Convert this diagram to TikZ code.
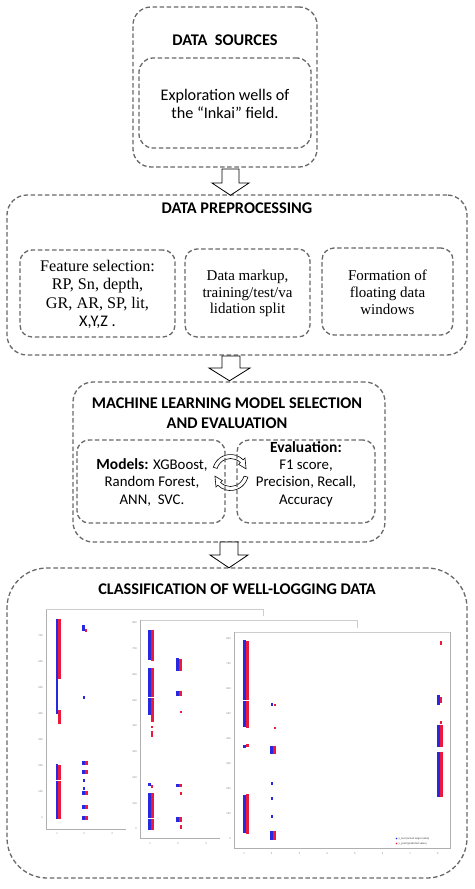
\documentclass[tikz,border=0pt]{standalone}
\usepackage{fontspec}
\setmainfont{Liberation Serif}
\newfontfamily\calfont{Carlito}
\newfontfamily\tickfont{Liberation Sans}
\usetikzlibrary{calc}
\definecolor{dashgray}{RGB}{105,105,105}
\definecolor{plotblue}{RGB}{40,40,225}
\definecolor{plotred}{RGB}{235,25,60}
\definecolor{spinegray}{RGB}{175,175,175}
\definecolor{framegray}{RGB}{205,205,205}
\tikzset{
  dbox/.style={draw=dashgray, line width=1.3pt, dash pattern=on 4.5pt off 2.6pt, rounded corners=#1, inner sep=0pt},
  dbox/.default=16pt,
  ttl/.style={font=\calfont\bfseries\fontsize{16.3}{20}\selectfont, align=center, inner sep=0pt},
  cbody/.style={font=\calfont\fontsize{14.8}{17.4}\selectfont, align=center, inner sep=0pt},
  sbody/.style={font=\fontsize{15}{16.8}\selectfont, align=center, inner sep=0pt},
  blockarrow/.style={draw=black, fill=white, line width=0.8pt, line join=miter},
  cyc/.style={draw=black, fill=white, line width=0.6pt},
  bb/.style={fill=plotblue},
  rb/.style={fill=plotred},
  spine/.style={draw=spinegray, line width=0.9pt},
  frame/.style={draw=framegray, line width=0.8pt},
  tick/.style={font=\tickfont\fontsize{2.6}{3}\selectfont, text=gray, inner sep=0pt},
}
\begin{document}
\begin{tikzpicture}[x=1pt,y=-1pt]
\useasboundingbox (0,0) rectangle (474,889);
\fill[white] (0,0) rectangle (474,889);

% ---------- DATA SOURCES ----------
\node[dbox=18pt, minimum width=184pt, minimum height=160pt] (ds) at (225,87) {};
\node[dbox=14pt, minimum width=172pt, minimum height=90pt] (dsin) at (225,103) {};
\node[ttl] (dst) at (225,40) {DATA\ \ SOURCES};
\node[cbody, font=\calfont\fontsize{16.2}{18.5}\selectfont] (dstx) at (225,104) {Exploration wells of\\the “Inkai” field.};

% ---------- DATA PREPROCESSING ----------
\node[dbox=20pt, minimum width=460pt, minimum height=160pt] (pp) at (237,275) {};
\node[ttl] (ppt) at (237,208) {DATA PREPROCESSING};
\node[dbox=12pt, minimum width=155pt, minimum height=87pt] (pp1) at (97.5,293.5) {};
\node[dbox=12pt, minimum width=125pt, minimum height=88pt] (pp2) at (247.5,293) {};
\node[dbox=12pt, minimum width=131pt, minimum height=87pt] (pp3) at (387.5,291.5) {};
\node[sbody, font=\fontsize{16.2}{18.3}\selectfont] (pp1t) at (97.5,294.5) {Feature selection:\\RP, Sn, depth,\\GR, AR, SP, lit,\\{\calfont X,Y,Z .}};
\node[sbody] (pp2t) at (247.5,293.5) {Data markup,\\training/test/va\\lidation split};
\node[sbody] (pp3t) at (387.5,292.5) {Formation of\\floating data\\windows};

% ---------- ML ----------
\node[dbox=20pt, minimum width=312pt, minimum height=160pt] (ml) at (229,462) {};
\node[ttl] (mlt) at (227,413) {MACHINE LEARNING MODEL SELECTION\\AND EVALUATION};

% cycle arrows (behind the inner boxes)
\coordinate (C) at (230.5,472.5);
\draw[cyc] ($(C)+(-163:18)$) arc[start angle=-163, end angle=-45, radius=18]
  -- ($(C)+(-45:20.5)$) -- ($(C)+(-13:16)$) -- ($(C)+(-45:11.5)$) -- ($(C)+(-45:14)$)
  arc[start angle=-45, end angle=-163, radius=14] -- cycle;
\draw[cyc] ($(C)+(15:18)$) arc[start angle=15, end angle=135, radius=18]
  -- ($(C)+(135:20.5)$) -- ($(C)+(167:16)$) -- ($(C)+(135:11.5)$) -- ($(C)+(135:14)$)
  arc[start angle=135, end angle=15, radius=14] -- cycle;

\node[dbox=12pt, minimum width=148pt, minimum height=83pt] (ml1) at (151,481.5) {};
\node[dbox=12pt, minimum width=138pt, minimum height=83pt] (ml2) at (306,481.5) {};
\node[cbody] (ml1t) at (152,482.5) {{\bfseries\fontsize{15.5}{17.4}\selectfont Models:} XGBoost,\\Random Forest,\\ANN,\ \ SVC.};
\node[cbody] (ml2t) at (306,474) {{\bfseries\fontsize{15.5}{17.4}\selectfont Evaluation:}\\F1 score,\\Precision, Recall,\\Accuracy};

% ---------- CLASSIFICATION ----------
\node[dbox=40pt, minimum width=460pt, minimum height=310pt] (cl) at (237,723) {};
\node[ttl] (clt) at (237,589) {CLASSIFICATION OF WELL-LOGGING DATA};

% ---------- block arrows ----------
\draw[blockarrow] (222,169) -- (239,169) -- (239,183) -- (249,183) -- (230.5,195.3) -- (212,183) -- (222,183) -- cycle;
\draw[blockarrow] (222,356) -- (240,356) -- (240,368) -- (250,368) -- (229.5,380.8) -- (209,368) -- (222,368) -- cycle;
\draw[blockarrow] (220,542) -- (238,542) -- (238,555) -- (248,555) -- (229,567.8) -- (210,555) -- (220,555) -- cycle;

% ---------- panel 1 ----------
\fill[white] (30,606) rectangle (263,842);
\draw[frame] (46,609.5) -- (263,609.5) -- (263,626);
\draw[spine] (46,609.5) -- (46,829) -- (135,829);
\foreach \v in {0,100,...,700} \node[tick, anchor=east] at (43,{818-0.26*\v}) {\v};
\foreach \i/\xx in {1/57,2/84,3/112} \node[tick] at (\xx,834) {\i};
\fill[bb] (55.5,619) rectangle (58.3,714);
\fill[rb] (58,619) rectangle (61,679);
\fill[rb] (58,710) rectangle (61,724);
\fill[bb] (55.5,764) rectangle (58.3,819);
\fill[rb] (58,765) rectangle (61,819);
\fill[white] (55,780) rectangle (61,781);
\fill[bb] (82,625) rectangle (85,631); \fill[rb] (85,629) rectangle (87,632);
\fill[bb] (83,696) rectangle (85,698.5);
\foreach \yy in {763,772,793,807,818} {\fill[bb] (82,\yy-2) rectangle (85,\yy+2); \fill[rb] (85,\yy-2) rectangle (88,\yy+2);}
\foreach \yy in {780,788} {\fill[bb] (82.5,\yy-1.5) rectangle (84.5,\yy+1.5);}

% ---------- panel 2 ----------
\fill[white] (126,616) rectangle (357,852);
\draw[frame] (140,620) -- (357,620) -- (357,640);
\draw[spine] (140,620) -- (140,838) -- (357,838);
\foreach \v in {0,100,...,800} \node[tick, anchor=east] at (137,{829-0.2575*\v}) {\v};
\foreach \i/\xx in {1/150,2/178,3/206} \node[tick] at (\xx,843.5) {\i};
\fill[bb] (148,630) rectangle (151,660); \fill[rb] (151,630) rectangle (154,661);
\fill[bb] (148,668) rectangle (151,715); \fill[rb] (151,668) rectangle (154,722);
\fill[white] (148,697) rectangle (154,698);
\fill[rb] (151,726) rectangle (153,728); \fill[rb] (151,731) rectangle (153,737);
\fill[bb] (148,783) rectangle (151,786); \fill[rb] (151,785) rectangle (153,788);
\fill[bb] (148,793) rectangle (151,830); \fill[rb] (151,793) rectangle (154,830);
\fill[white] (148,818) rectangle (154,819);
\fill[bb] (176,658) rectangle (179,671); \fill[rb] (179,659) rectangle (182,671);
\fill[bb] (176,691) rectangle (179,696); \fill[rb] (179,691) rectangle (182,696);
\fill[rb] (180,711) rectangle (181.5,713);
\fill[bb] (176,784) rectangle (179,787); \fill[rb] (179,784) rectangle (182,787);
\fill[rb] (180,792) rectangle (182,795);
\fill[bb] (176,817) rectangle (179,822); \fill[rb] (179,817) rectangle (182,822);
\fill[rb] (180,825) rectangle (182,829);

% ---------- panel 3 ----------
\fill[white] (220,628) rectangle (452,860);
\draw[frame] (234,632) -- (450,632);
\draw[spine] (234,632) -- (234,848) -- (450,848) -- (450,632);
\foreach \v in {0,100,...,800} \node[tick, anchor=east] at (231,{839-0.25*\v}) {\v};
\foreach \i in {1,...,8} \node[tick] at ({244+27.7*(\i-1)},853.5) {\i};
\fill[bb] (243,640) rectangle (246,727); \fill[rb] (246,641) rectangle (249,728);
\fill[white] (243,700) rectangle (249,701);
\fill[bb] (243,745) rectangle (246,748); \fill[rb] (246,744) rectangle (248.5,747);
\fill[bb] (243,795) rectangle (246,833); \fill[rb] (246,794) rectangle (249,834);
\fill[bb] (271,703) rectangle (273,706); \fill[rb] (274,704) rectangle (275.5,705.5);
\fill[rb] (274,727) rectangle (275.5,729);
\fill[bb] (270,746) rectangle (273,754); \fill[rb] (273,746) rectangle (276,754);
\foreach \yy in {783.5,798.5,816.5} {\fill[bb] (271,\yy-1.5) rectangle (273,\yy+1.5);}
\fill[bb] (270,831) rectangle (273,840); \fill[rb] (273,831) rectangle (276,840);
\fill[rb] (440,641) rectangle (442,645);
\fill[bb] (437,695) rectangle (439.5,705); \fill[rb] (439.5,697) rectangle (442,703);
\fill[rb] (439.5,721) rectangle (442,724);
\fill[bb] (437,725) rectangle (440,747); \fill[rb] (440,725) rectangle (443,747);
\fill[bb] (437,752) rectangle (440,797); \fill[rb] (440,752) rectangle (443,797);
% legend
\fill[plotblue] (396.5,838.5) circle (0.8);
\fill[plotred] (396.5,843.5) circle (0.8);
\node[tick, anchor=west, text=darkgray] (lg1) at (398.5,838.5) {y\_test (actual target value)};
\node[tick, anchor=west, text=darkgray] (lg2) at (398.5,843.5) {y\_pred (predicted value)};
\end{tikzpicture}
\end{document}
